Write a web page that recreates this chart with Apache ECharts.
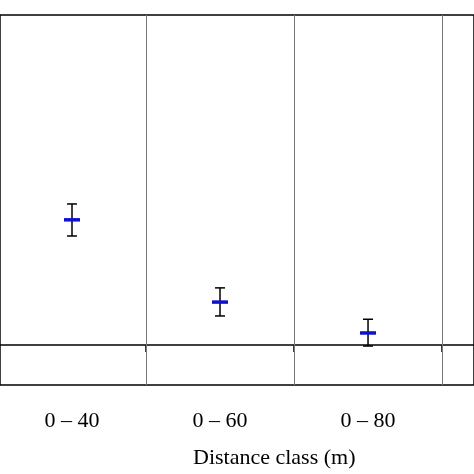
<!DOCTYPE html><html><head><meta charset="utf-8">
<script src="https://cdn.jsdelivr.net/npm/echarts@6/dist/echarts.min.js"></script>
<style>html,body{margin:0;padding:0;background:#fff}#c{width:474px;height:474px}</style></head><body><div id="c"></div>
<script>
const categories = ["0 – 20", "0 – 40", "0 – 60", "0 – 80", "0 – 100"];
const means = [null, 0.38, 0.131, 0.0375, null];
const lows  = [null, 0.331, 0.089, -0.002, null];
const highs = [null, 0.428, 0.174, 0.079, null];
const boundaries = [1.5, 2.5, 3.5];
const labelPos = [1, 2, 3];
const chart = echarts.init(document.getElementById('c'));
const data = categories.map((c,i)=>means[i]==null?null:[i,means[i],lows[i],highs[i]]).filter(d=>d);
const xmin = 0.5135, xmax = 3.716;
chart.setOption({
  animation:false,
  grid:{left:0,right:0,top:15,bottom:89,show:true,borderColor:'#000',borderWidth:1.5},
  xAxis:[
    {type:'value',min:xmin,max:xmax,position:'bottom',axisLine:{show:false},axisTick:{show:false},splitLine:{show:false},
     axisLabel:{customValues:labelPos,formatter:v=>categories[Math.round(v)],fontFamily:'Liberation Serif',fontSize:22,color:'#000',margin:25}},
    {type:'value',min:xmin,max:xmax,position:'bottom',offset:-40,axisLine:{show:true,onZero:false,lineStyle:{color:'#000',width:1.5}},
     axisTick:{show:true,customValues:boundaries,length:7,lineStyle:{color:'#000',width:1.5}},axisLabel:{show:false},splitLine:{show:false}}
  ],
  yAxis:{type:'value',min:-0.12,max:1.0,show:false,splitLine:{show:false}},
  graphic:[{type:'text',left:193,top:447,style:{text:'Distance class (m)',font:'22px "Liberation Serif"',fill:'#000'}}],
  series:[{type:'custom',xAxisIndex:0,data:data,
    markLine:{silent:true,symbol:'none',label:{show:false},lineStyle:{color:'#777',width:1,type:'solid'},
      data:boundaries.map(b=>({xAxis:b}))},
    renderItem:function(p,api){
    const x=api.coord([api.value(0),api.value(1)]);
    const lo=api.coord([api.value(0),api.value(2)]);
    const hi=api.coord([api.value(0),api.value(3)]);
    const s={stroke:'#000',lineWidth:1.5};
    return {type:'group',children:[
      {type:'line',shape:{x1:x[0],y1:lo[1],x2:x[0],y2:hi[1]},style:s},
      {type:'line',shape:{x1:x[0]-5,y1:lo[1],x2:x[0]+5,y2:lo[1]},style:s},
      {type:'line',shape:{x1:x[0]-5,y1:hi[1],x2:x[0]+5,y2:hi[1]},style:s},
      {type:'line',shape:{x1:x[0]-8,y1:x[1],x2:x[0]+8,y2:x[1]},style:{stroke:'#1010d0',lineWidth:3.5}}
    ]};
  }}]
});
</script></body></html>
